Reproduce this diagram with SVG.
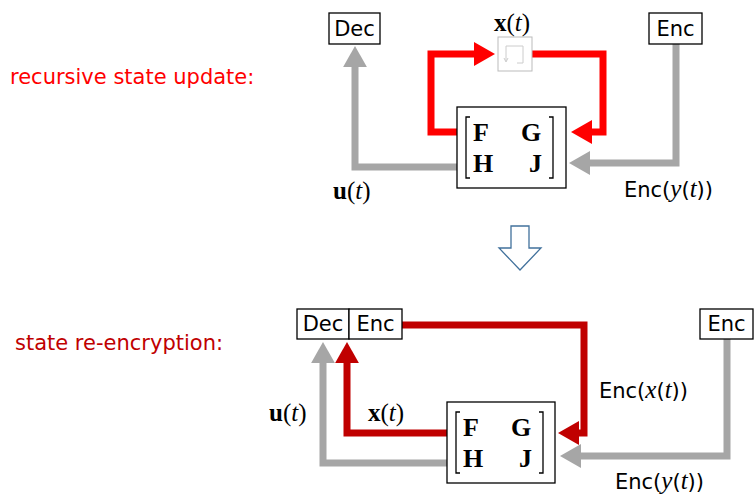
<svg xmlns="http://www.w3.org/2000/svg" width="755" height="497" viewBox="0 0 755 497">
<style>
.box{fill:#fff;stroke:#000;stroke-width:1.3}
.sans{font-family:"DejaVu Sans","Liberation Sans",sans-serif;font-size:21px}
.m{font-family:"Liberation Serif",serif;font-size:25px}
.mb{font-family:"Liberation Serif",serif;font-size:26px;font-weight:bold}
.g{fill:none;stroke:#a6a6a6;stroke-width:7}
.r{fill:none;stroke:#ff0000;stroke-width:7}
.d{fill:none;stroke:#c00000;stroke-width:7}
.br{fill:none;stroke:#000;stroke-width:1.3}
</style>
<defs>
<marker id="ag" markerWidth="4" markerHeight="4" refX="1" refY="2" orient="auto" markerUnits="strokeWidth"><path d="M0,0.3 L3,2 L0,3.7Z" fill="#a6a6a6"/></marker>
<marker id="ar" markerWidth="4" markerHeight="4" refX="1" refY="2" orient="auto" markerUnits="strokeWidth"><path d="M0,0.3 L3,2 L0,3.7Z" fill="#ff0000"/></marker>
<marker id="ad" markerWidth="4" markerHeight="4" refX="1" refY="2" orient="auto" markerUnits="strokeWidth"><path d="M0,0.3 L3,2 L0,3.7Z" fill="#c00000"/></marker>
</defs>
<text x="10" y="84" class="sans" fill="#ff0000">recursive state update:</text>
<text x="15" y="350" class="sans" fill="#c00000">state re-encryption:</text>
<g id="connectors">
<path class="g" d="M457,167 H355 V60" marker-end="url(#ag)"/>
<path class="g" d="M676,44 V163 H583" marker-end="url(#ag)"/>
<path class="r" d="M457,132 H431 V54 H481" marker-end="url(#ar)"/>
<path class="r" d="M532,54 H603 V132 H585" marker-end="url(#ar)"/>
<path class="d" d="M402,325 H584 V433 H572" marker-end="url(#ad)"/>
<path class="d" d="M447,433 H347 V356" marker-end="url(#ad)"/>
<path class="g" d="M447,463 H323 V356" marker-end="url(#ag)"/>
<path class="g" d="M727,339 V456 H574" marker-end="url(#ag)"/>
</g>
<g id="dec1"><rect class="box" x="329" y="13" width="51" height="31"/><text x="354.5" y="36" class="sans" text-anchor="middle">Dec</text></g>
<g id="enc1"><rect class="box" x="649" y="13" width="53" height="31"/><text x="675.5" y="36" class="sans" text-anchor="middle">Enc</text></g>
<g id="delay"><rect x="498" y="37" width="34" height="34" fill="#fff" stroke="#bbb" stroke-width="1"/><path d="M506,61 V46 H523 V63 H517" fill="none" stroke="#ccc" stroke-width="1"/><path d="M504,58 L506,62 L508,58" fill="none" stroke="#ccc" stroke-width="1"/></g>
<g id="matrix1"><rect class="box" x="457" y="107" width="109" height="81"/>
<path class="br" d="M470,117 H466 V178 H470 M549,117 H553 V178 H549"/>
<text x="473" y="141" class="mb">F</text><text x="521" y="141" class="mb">G</text>
<text x="473" y="172" class="mb">H</text><text x="529" y="172" class="mb">J</text></g>
<text x="494" y="31" class="m"><tspan font-weight="bold">x</tspan>(<tspan font-style="italic">t</tspan>)</text>
<text x="333" y="199" class="m"><tspan font-weight="bold">u</tspan>(<tspan font-style="italic">t</tspan>)</text>
<text x="624" y="197" class="sans">Enc(<tspan class="m" font-style="italic">y</tspan>(<tspan class="m" font-style="italic">t</tspan>))</text>
<path d="M511,226 H529 V248 H541 L520,270 L499,248 H511Z" fill="#fff" stroke="#41719c" stroke-width="1.3"/>
<g id="dec2"><rect class="box" x="297" y="309" width="52" height="30"/><text x="323" y="331" class="sans" text-anchor="middle">Dec</text></g>
<g id="enc2"><rect class="box" x="349" y="309" width="53" height="30"/><text x="375.5" y="331" class="sans" text-anchor="middle">Enc</text></g>
<g id="enc3"><rect class="box" x="700" y="309" width="53" height="30"/><text x="726.5" y="331" class="sans" text-anchor="middle">Enc</text></g>
<g id="matrix2"><rect class="box" x="447" y="402" width="108" height="81"/>
<path class="br" d="M460,412 H456 V473 H460 M539,412 H543 V473 H539"/>
<text x="463" y="436" class="mb">F</text><text x="511" y="436" class="mb">G</text>
<text x="463" y="467" class="mb">H</text><text x="519" y="467" class="mb">J</text></g>
<text x="269" y="421" class="m"><tspan font-weight="bold">u</tspan>(<tspan font-style="italic">t</tspan>)</text>
<text x="368" y="421" class="m"><tspan font-weight="bold">x</tspan>(<tspan font-style="italic">t</tspan>)</text>
<text x="599" y="398" class="sans">Enc(<tspan class="m" font-style="italic">x</tspan>(<tspan class="m" font-style="italic">t</tspan>))</text>
<text x="615" y="489" class="sans">Enc(<tspan class="m" font-style="italic">y</tspan>(<tspan class="m" font-style="italic">t</tspan>))</text>
</svg>
